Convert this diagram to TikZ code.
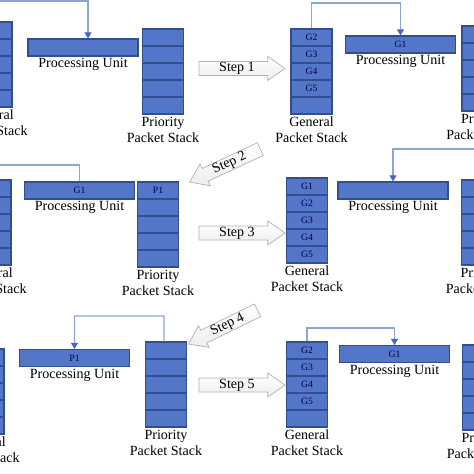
\documentclass[tikz,border=0pt]{standalone}
\usepackage{fontspec}
\setmainfont{Liberation Serif}
\usetikzlibrary{arrows.meta,positioning,shapes.arrows}
\definecolor{stackblue}{RGB}{84,118,200}
\definecolor{stackedge}{RGB}{50,78,145}
\definecolor{linkblue}{RGB}{140,165,215}
\definecolor{tipblue}{RGB}{68,105,190}
\tikzset{
    %Define standard arrow tip
    >={Triangle[length=3.5pt,width=4pt,color=tipblue]},
    %Define style for stack cells
    cell/.style={
           rectangle,
           draw=stackedge, line width=0.6pt,
           fill=stackblue,
           minimum width=0.82cm,
           minimum height=0.34cm,
           inner sep=0pt,
           font=\fontsize{5.5}{6}\selectfont,
           text=black!75!blue},
    unit/.style={
           rectangle,
           draw=stackedge, line width=0.6pt,
           fill=stackblue,
           minimum width=2.2cm,
           minimum height=0.34cm,
           inner sep=0pt,
           font=\fontsize{5.5}{6}\selectfont,
           text=black!75!blue},
    caption/.style={
           align=center,
           inner sep=0pt,
           font=\fontsize{8}{9}\selectfont},
    stepbox/.style={
           single arrow,
           draw=gray!60, thin,
           top color=white, bottom color=black!7,
           single arrow head extend=0.1cm,
           single arrow tip angle=70,
           minimum height=1.72cm,
           inner ysep=0.3pt, inner xsep=2pt,
           font=\fontsize{8}{9}\selectfont},
    % Define connector style
    link/.style={
           ->,
           draw=linkblue,
           line width=0.7pt}
}
\begin{document}
\begin{tikzpicture}[x=0.02cm,y=-0.02cm]
\useasboundingbox (0,0) rectangle (474,474);
\clip (0,0) rectangle (474,474);
 %row 1
\foreach \i in {1,...,5} \node[cell] (gs1-\i) at (-8.5,13.5+17*\i) {};
\foreach \i in {1,...,5} \node[cell] (ps1-\i) at (163,20.5+17*\i) {};
\foreach \t [count=\i] in {G2,G3,G4,G5,{}} \node[cell] (gs2-\i) at (311.5,20.5+17*\i) {\t};
\foreach \i in {1,...,5} \node[cell] (ps2-\i) at (482.5,17.5+17*\i) {};
\node[unit] (pu1) at (83,47.5) {};
\node[unit] (pu2) at (400.5,44.5) {G1};
 %row 2
\foreach \i in {1,...,5} \node[cell] (gs3-\i) at (-9.5,171.5+17*\i) {};
\foreach \t [count=\i] in {P1,{},{},{},{}} \node[cell] (ps3-\i) at (158,173.5+17*\i) {\t};
\foreach \t [count=\i] in {G1,G2,G3,G4,G5} \node[cell] (gs4-\i) at (307,169.5+17*\i) {\t};
\foreach \i in {1,...,5} \node[cell] (ps4-\i) at (482,171.5+17*\i) {};
\node[unit] (pu3) at (79.5,190.5) {G1};
\node[unit] (pu4) at (393,190.5) {};
 %row 3
\foreach \i in {1,...,5} \node[cell] (gs5-\i) at (-16.5,340.5+17*\i) {};
\foreach \i in {1,...,5} \node[cell] (ps5-\i) at (166,333.5+17*\i) {};
\foreach \t [count=\i] in {G2,G3,G4,G5,{}} \node[cell] (gs6-\i) at (307,333.5+17*\i) {\t};
\foreach \i in {1,...,5} \node[cell] (ps6-\i) at (483,336.5+17*\i) {};
\node[unit] (pu5) at (74.5,358) {P1};
\node[unit] (pu6) at (394.5,354) {G1};
 %captions
\node[caption, below=1pt of pu1] {Processing Unit};
\node[caption, below=1pt of pu2] {Processing Unit};
\node[caption, below=1pt of pu3] {Processing Unit};
\node[caption, below=1pt of pu4] {Processing Unit};
\node[caption, below=1pt of pu5] {Processing Unit};
\node[caption, below=1pt of pu6] {Processing Unit};
\node[caption, below=1pt of gs1-5] {General\\Packet Stack};
\node[caption, below=1pt of gs2-5] {General\\Packet Stack};
\node[caption, below=1pt of gs3-5] {General\\Packet Stack};
\node[caption, below=1pt of gs4-5] {General\\Packet Stack};
\node[caption, below=1pt of gs5-5] {General\\Packet Stack};
\node[caption, below=1pt of gs6-5] {General\\Packet Stack};
\node[caption, below=1.5pt of ps1-5] {Priority\\Packet Stack};
\node[caption, below=1.5pt of ps2-5] {Priority\\Packet Stack};
\node[caption, below=1.5pt of ps3-5] {Priority\\Packet Stack};
\node[caption, below=1.5pt of ps4-5] {Priority\\Packet Stack};
\node[caption, below=1.5pt of ps5-5] {Priority\\Packet Stack};
\node[caption, below=1.5pt of ps6-5] {Priority\\Packet Stack};
 %steps
\node[stepbox] (s1) at (237,68.5) {Step 1};
\node[stepbox, shape border rotate=180, rotate=25, minimum height=1.56cm] (s2) at (229.5,163.5) {Step 2};
\node[stepbox] (s3) at (237,233) {Step 3};
\node[stepbox, shape border rotate=180, rotate=26, minimum height=1.54cm] (s4) at (227.5,325) {Step 4};
\node[stepbox] (s5) at (237,385) {Step 5};
 %connectors
\coordinate (t1) at (-8.5,1);
\coordinate (t2) at (311.5,3);
\coordinate (t3) at (79.5,165);
\coordinate (t4) at (482,149);
\coordinate (t5) at (164,316);
\coordinate (t6) at (307,328);
\draw[link] (gs1-1.north) -- (t1) -| ([xshift=0.1cm]pu1.north);
\draw[link] (gs2-1.north) -- (t2) -| (pu2.north);
\draw[link] (pu3.north) -- (t3) -| (gs3-1.north);
\draw[link] (ps4-1.north) -- (t4) -| (pu4.north);
\draw[link] ([xshift=-0.04cm]ps5-1.north) -- (t5) -| (pu5.north);
\draw[link] (gs6-1.north) -- (t6) -| (pu6.north);
\end{tikzpicture}
\end{document}
